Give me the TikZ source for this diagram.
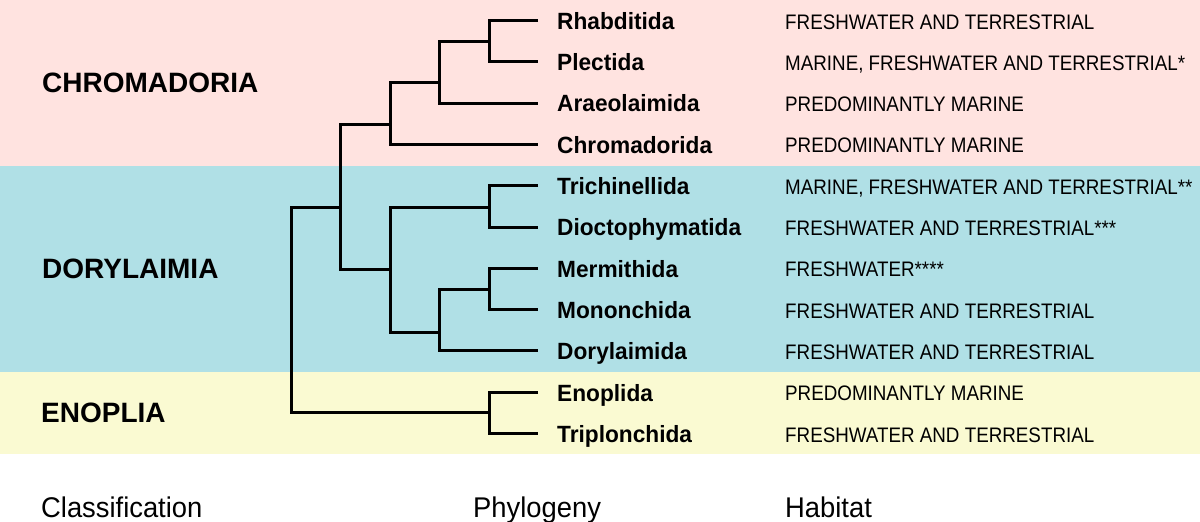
\documentclass[tikz,border=0pt]{standalone}
\usepackage{fontspec}
\setmainfont{Liberation Sans}
\newfontfamily\habfont[FakeStretch=0.895]{Liberation Sans}
\newfontfamily\taxfont[FakeStretch=0.965]{Liberation Sans}
\newfontfamily\axfont[FakeStretch=0.96]{Liberation Sans}
\definecolor{pinkbg}{RGB}{255,227,224}
\definecolor{tealbg}{RGB}{176,224,230}
\definecolor{yellowbg}{RGB}{250,250,210}
\tikzset{
  grouplabel/.style={anchor=base west, inner sep=0pt, font=\fontsize{28}{30}\selectfont\bfseries},
  taxon/.style={anchor=base west, inner sep=0pt, font=\taxfont\fontsize{23.5}{26}\selectfont\bfseries},
  habitat/.style={anchor=base west, inner sep=0pt, font=\habfont\fontsize{21}{24}\selectfont},
  axislabel/.style={anchor=base west, inner sep=0pt, font=\axfont\fontsize{28.5}{30}\selectfont},
  branch/.style={draw=black, line width=3pt, line join=miter}
}
\begin{document}
\begin{tikzpicture}[x=1pt,y=-1pt]
\useasboundingbox (0,0) rectangle (1200,522);
\fill[white] (0,0) rectangle (1200,522);
\fill[pinkbg] (0,0) rectangle (1200,166);
\fill[tealbg] (0,166) rectangle (1200,372);
\fill[yellowbg] (0,372) rectangle (1200,454);

% group labels
\node[grouplabel] (chr) at (42,92) {CHROMADORIA};
\node[grouplabel] (dor) at (42,278) {DORYLAIMIA};
\node[grouplabel] (eno) at (41,422) {ENOPLIA};

% leaves
\foreach \n/\y/\name/\hab in {
  t1/20.5/Rhabditida/FRESHWATER AND TERRESTRIAL,
  t2/61.8/Plectida/{MARINE, FRESHWATER AND TERRESTRIAL*},
  t3/103.1/Araeolaimida/PREDOMINANTLY MARINE,
  t4/144.4/Chromadorida/PREDOMINANTLY MARINE,
  t5/185.7/Trichinellida/{MARINE, FRESHWATER AND TERRESTRIAL**},
  t6/227/Dioctophymatida/FRESHWATER AND TERRESTRIAL***,
  t7/268.3/Mermithida/FRESHWATER****,
  t8/309.6/Mononchida/FRESHWATER AND TERRESTRIAL,
  t9/350.9/Dorylaimida/FRESHWATER AND TERRESTRIAL,
  t10/392.2/Enoplida/PREDOMINANTLY MARINE,
  t11/433.5/Triplonchida/FRESHWATER AND TERRESTRIAL}{
  \coordinate (\n) at (538,\y);
  \node[taxon] (\n name) at (557,\y+8.8) {\name};
  \node[habitat] (\n hab) at (785,\y+8.5) {\hab};
}

% internal nodes
\coordinate (a) at (489,41);
\coordinate (b) at (439,82);
\coordinate (c) at (390,124);
\coordinate (d) at (489,207);
\coordinate (e) at (489,289);
\coordinate (f) at (439,332);
\coordinate (g) at (390,269);
\coordinate (h) at (340,207);
\coordinate (i) at (489,412);
\coordinate (root) at (291,310);

\draw[branch] (t1) -| (a) |- (t2);
\draw[branch] (a) -| (b) |- (t3);
\draw[branch] (b) -| (c) |- (t4);
\draw[branch] (t5) -| (d) |- (t6);
\draw[branch] (t7) -| (e) |- (t8);
\draw[branch] (e) -| (f) |- (t9);
\draw[branch] (d) -| (g) |- (f);
\draw[branch] (c) -| (h) |- (g);
\draw[branch] (t10) -| (i) |- (t11);
\draw[branch] (h) -| (root) |- (i);

% axis labels
\node[axislabel] (cls) at (41,517) {Classification};
\node[axislabel] (phy) at (473,517) {Phylogeny};
\node[axislabel] (hbt) at (785,517) {Habitat};
\end{tikzpicture}
\end{document}
